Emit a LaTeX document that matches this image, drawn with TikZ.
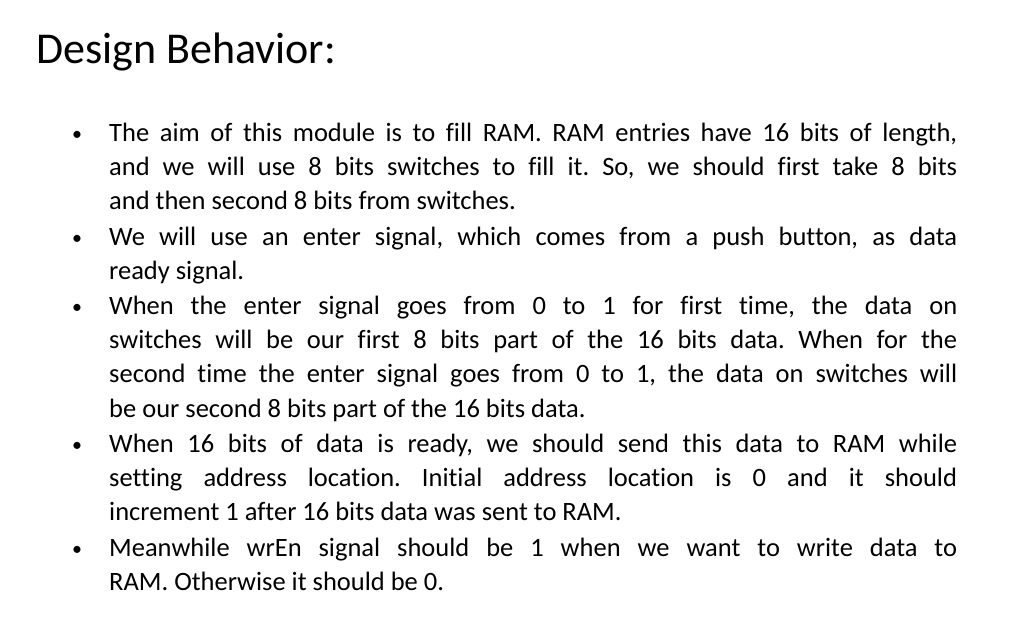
\documentclass[tikz,border=0pt]{standalone}
\usepackage{fontspec}
\setmainfont{Carlito}[Ligatures=NoCommon]
\usetikzlibrary{positioning}
\tikzset{
  item/.style={anchor=base west,inner sep=0pt,text width=848pt,align=justify,
    font=\fontsize{26.5}{34.4}\selectfont\frenchspacing},
  dot/.style={anchor=base,inner sep=0pt,font=\fontsize{20}{34.4}\selectfont}
}
\begin{document}
\begin{tikzpicture}[x=1pt,y=-1pt]
\useasboundingbox (0,0) rectangle (1024,640);

% Title
\node (title) [anchor=base west,inner sep=0pt,font=\fontsize{44}{50}\selectfont] at (36,63) {Design Behavior:};

% Bullets
\node (d1) [dot] at (77,140) {•};
\node (d2) [dot] at (77,244) {•};
\node (d3) [dot] at (77,313) {•};
\node (d4) [dot] at (77,451) {•};
\node (d5) [dot] at (77,555) {•};

% Items
\node (item1) [item] at (109,141) {The aim of this module is to fill RAM. RAM entries have 16 bits of length,\linebreak and we will use 8 bits switches to fill it. So, we should first take 8 bits\linebreak and then second 8 bits from switches.};
\node (item2) [item] at (109,245) {We will use an enter signal, which comes from a push button, as data\linebreak ready signal.};
\node (item3) [item] at (109,314) {When the enter signal goes from 0 to 1 for first time, the data on\linebreak switches will be our first 8 bits part of the 16 bits data. When for the\linebreak second time the enter signal goes from 0 to 1, the data on switches will\linebreak be our second 8 bits part of the 16 bits data.};
\node (item4) [item] at (109,452) {When 16 bits of data is ready, we should send this data to RAM while\linebreak setting address location. Initial address location is 0 and it should\linebreak increment 1 after 16 bits data was sent to RAM.};
\node (item5) [item] at (109,556) {Meanwhile wrEn signal should be 1 when we want to write data to\linebreak RAM. Otherwise it should be 0.};
\end{tikzpicture}
\end{document}
